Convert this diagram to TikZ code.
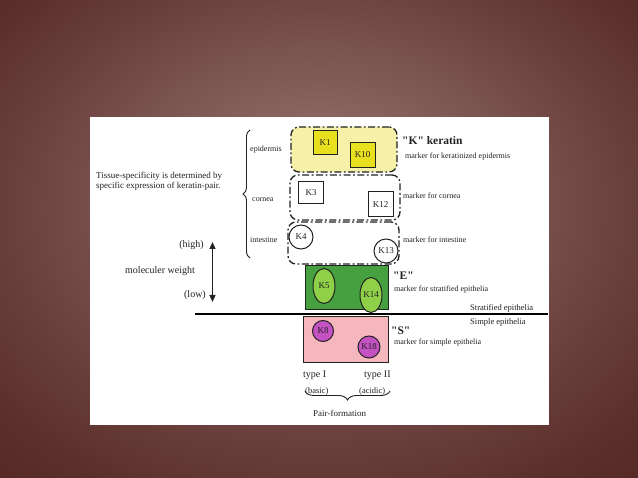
\documentclass[tikz,border=0pt]{standalone}
\usepackage{fontspec}
\setmainfont{Liberation Serif}
\usetikzlibrary{decorations.pathreplacing,arrows.meta,shapes.geometric}
\definecolor{bglight}{HTML}{8A6461}
\definecolor{bgdark}{HTML}{481A17}
\definecolor{yellowbg}{HTML}{F6F0A8}
\definecolor{kyellow}{HTML}{E8E01E}
\definecolor{greenbg}{HTML}{46A040}
\definecolor{greenell}{HTML}{8FD048}
\definecolor{pinkbg}{HTML}{F6B6BE}
\definecolor{purp}{HTML}{C452C2}
\definecolor{ink}{HTML}{222222}
\pgfdeclareradialshading{bgshade}{\pgfpoint{0bp}{6bp}}{color(0bp)=(bglight); color(8bp)=(bglight); color(32bp)=(bgdark!72!bglight); color(50bp)=(bgdark)}
\begin{document}
\begin{tikzpicture}[x=1pt,y=-1pt,
  txt/.style={inner sep=0pt, text=ink, font=\fontsize{8}{9}\selectfont},
  lbl/.style={txt, font=\fontsize{9}{10}\selectfont},
  big/.style={txt, font=\bfseries\fontsize{11.5}{12}\selectfont},
  dbox/.style={draw=ink, line width=1.3pt, rounded corners=8pt,
    dash pattern=on 7pt off 2.5pt on 1.8pt off 2.5pt},
  sq/.style={draw=ink, line width=1pt, minimum size=24pt, inner sep=0pt,
    font=\fontsize{9}{10}\selectfont, text=ink},
  circ/.style={draw=ink, line width=1pt, circle, minimum size=24pt, inner sep=0pt,
    font=\fontsize{9}{10}\selectfont, text=ink},
  ell/.style={draw=ink, line width=1pt, ellipse, minimum width=22pt,
    minimum height=35pt, inner sep=0pt, fill=greenell,
    font=\fontsize{9}{10}\selectfont, text=ink},
  rbox/.style={draw=ink, line width=1pt, inner sep=0pt}]
\useasboundingbox (0,0) rectangle (638,478);
\shade[shading=bgshade] (0,0) rectangle (638,478);
\fill[white] (90,117) rectangle (549,425);

% left text
\node[lbl, align=left, anchor=west] (tissue) at (96,181)
  {Tissue-specificity is determined by\\specific expression of keratin-pair.};
\draw[ink, line width=0.9pt, decorate, decoration={brace, amplitude=7pt}]
  (250,258) coordinate (bb) -- (250,130) coordinate (bt);
\node[txt, anchor=west] (tepi) at (250,150) {epidermis};
\node[txt, anchor=west] (tcor) at (252,200) {cornea};
\node[txt, anchor=west] (tint) at (250,240) {intestine};

% K keratin boxes
\node[dbox, fill=yellowbg, minimum width=106pt, minimum height=45pt] (epi) at (344,149.5) {};
\node[dbox, minimum width=110pt, minimum height=45pt] (cor) at (345,197.5) {};
\node[dbox, minimum width=111pt, minimum height=42pt] (int) at (343.5,243) {};
\node[sq, fill=kyellow] (k1) at (325,143) {K1};
\node[sq, fill=kyellow, minimum size=25pt] (k10) at (362.5,155) {K10};
\node[sq, minimum width=25pt, minimum height=22pt] (k3) at (311,193) {K3};
\node[sq, minimum size=25pt] (k12) at (380.5,204.5) {K12};
\node[circ, fill=white] (k4) at (301,237) {K4};
\node[circ, fill=white] (k13) at (386,251) {K13};

\node[big, anchor=west] (kk) at (402,141) {\textquotedbl K\textquotedbl\ keratin};
\node[txt, anchor=west] (mk) at (405,157) {marker for keratinized epidermis};
\node[txt, anchor=west] (mc) at (403,196) {marker for cornea};
\node[txt, anchor=west] (mi) at (403,240) {marker for intestine};

% E keratin
\node[rbox, fill=greenbg, minimum width=83pt, minimum height=44pt] (egrp) at (346.5,288) {};
\node[ell] (k5) at (324,286) {K5};
\node[ell] (k14) at (371,295) {K14};
\node[big, anchor=west] (ee) at (393,276) {\textquotedbl E\textquotedbl};
\node[txt, anchor=west] (me) at (394,290) {marker for stratified epithelia};

% divider
\coordinate (l1) at (195,314);
\coordinate (l2) at (548,314);
\draw[black, line width=2pt] (l1) -- (l2);
\node[txt, anchor=west, font=\fontsize{8.5}{9}\selectfont] (strat) at (470,308) {Stratified epithelia};
\node[txt, anchor=west, font=\fontsize{8.5}{9}\selectfont] (simp) at (470,322) {Simple epithelia};

% S keratin
\node[rbox, fill=pinkbg, minimum width=85pt, minimum height=46pt] (sgrp) at (345.5,339.5) {};
\node[circ, fill=purp, minimum size=21pt] (k8) at (323,331) {K8};
\node[circ, fill=purp, minimum size=22pt] (k18) at (369,347) {K18};
\node[big, anchor=west] (ss) at (391,331) {\textquotedbl S\textquotedbl};
\node[txt, anchor=west] (ms) at (394,343) {marker for simple epithelia};

% molecular weight
\coordinate (ah) at (212.5,242);
\coordinate (al) at (212.5,302);
\draw[ink, line width=1.2pt, {Triangle[length=7pt,width=6pt]}-{Triangle[length=7pt,width=6pt]}] (ah) -- (al);
\node[lbl, anchor=east, font=\fontsize{10}{11}\selectfont] (hi) at (204,245) {(high)};
\node[lbl, anchor=east, font=\fontsize{10}{11}\selectfont] (lo) at (206,295) {(low)};
\node[lbl, anchor=west, font=\fontsize{10}{11}\selectfont] (mw) at (125,271) {moleculer weight};

% bottom labels
\node[lbl, anchor=west, font=\fontsize{10}{11}\selectfont] (t1) at (303,375) {type I};
\node[lbl, anchor=west, font=\fontsize{10}{11}\selectfont] (t2) at (364,375) {type II};
\node[txt, anchor=west, font=\fontsize{8.5}{9}\selectfont] (b1) at (305,391) {(basic)};
\node[txt, anchor=west, font=\fontsize{8.5}{9}\selectfont] (b2) at (359,391) {(acidic)};
\draw[ink, line width=0.9pt, decorate, decoration={brace, amplitude=9pt}]
  (390,391) coordinate (br) -- (305,391) coordinate (bl);
\node[lbl, anchor=west] (pf) at (313,413) {Pair-formation};
\end{tikzpicture}
\end{document}
